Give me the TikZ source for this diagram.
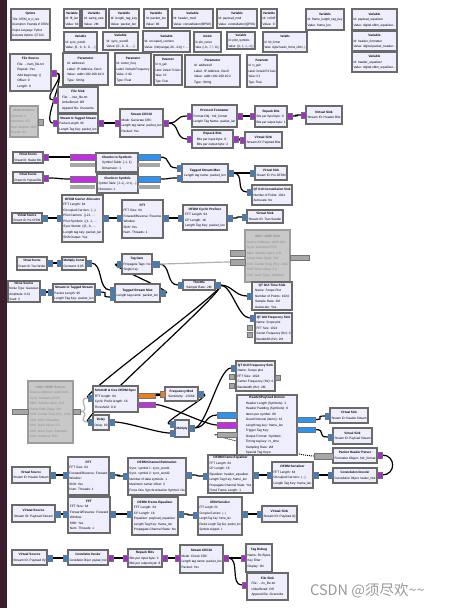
\documentclass[tikz,border=0pt]{standalone}
\usepackage{fontspec}
\usepackage{graphicx}
\setmainfont{Liberation Sans}
\newfontfamily\cjkf{Noto Sans CJK SC}
\usetikzlibrary{fit,calc}
\pgfdeclarelayer{bg}
\pgfsetlayers{bg,main}
\definecolor{blkfill}{HTML}{EFEEFD}
\definecolor{blkdraw}{HTML}{6A6A6A}
\definecolor{dfill}{HTML}{C8C8C8}
\definecolor{ddraw}{HTML}{9C9C9C}
\definecolor{cblu}{HTML}{3E7EC2}
\definecolor{cbb}{HTML}{2E93EE}
\definecolor{cpur}{HTML}{A62CCB}
\definecolor{cbar}{HTML}{C22FE0}
\definecolor{corg}{HTML}{E8801E}
\definecolor{cgry}{HTML}{A6A6A6}
\definecolor{dark}{HTML}{3B1E2D}
\newsavebox\gbox
\newdimen\gbdim
\tikzset{
 blk/.style={rectangle,draw=blkdraw,fill=blkfill,line width=1.3pt,inner sep=0pt},
 blkd/.style={rectangle,draw=ddraw,fill=dfill,line width=1.3pt,inner sep=0pt},
 blk text/.style={text=black},
 blkd text/.style={text=black!45},
 txt/.style={inner sep=0pt},
 prt/.style={rectangle,draw=black!55,line width=0.3pt,inner sep=0pt,minimum height=5.5pt},
 conn/.style={draw=black,line width=1.2pt},
 connd/.style={draw=black!30,line width=1.2pt},
 msg/.style={draw=black,line width=0.9pt,dash pattern=on 1pt off 1pt},
 lblc/.style={fill=cgry}
}
\newcommand\gfitbox[2]{\gbdim=\dimexpr #1\relax\sbox\gbox{#2}\ifdim\wd\gbox>\gbdim\resizebox{\gbdim}{\height}{\usebox\gbox}\else\usebox\gbox\fi}
\newcommand\gblk[8][blk]{%
 \node[#1,fit={(#3,#4) (#5,#6)}] (#2) {};%
 \node[txt,#1 text] at (#2.center) {\gfitbox{#5pt-#3pt-3pt}{\fontsize{3.2}{5.5}\selectfont\begin{tabular}{@{}l@{}}\multicolumn{1}{@{}c@{}}{\textbf{#7}}\\#8\end{tabular}}};%
}
\newcommand\gport[5][5]{\node[prt,fill=#2,minimum width=#1pt] (#3) at (#4,#5) {};}
\newcommand\gconn[3][conn]{\draw[#1] (#2.east) .. controls +(12,0) and +(-12,0) .. (#3.west);}
\begin{document}
\begin{tikzpicture}[x=1pt,y=-1pt]
\useasboundingbox (0,0) rectangle (458,608);
\begin{pgfonlayer}{bg}
\fill[white] (0,0) rectangle (458,608);
\fill[dark] (0,0) rectangle (7,608);
\end{pgfonlayer}
% ---------- variables / options ----------
\gblk{opt}{11}{9}{50}{40}{Options}{Title: OFDM\_tx\_rx\_test\\Description: Example of OFDM\\Output Language: Python\\Generate Options: QT GUI}
\gblk{v1}{64}{9}{80}{28}{Variable}{Id: fft\_len\\Value: 64}
\gblk{v2}{82}{9}{106}{28}{Variable}{Id: samp\_rate\\Value: 2M}
\gblk{v3}{109}{9}{139}{28}{Variable}{Id: length\_tag\_key\\Value: packet\_len}
\gblk{v4}{144}{9}{168}{28}{Variable}{Id: packet\_len\\Value: 96}
\gblk{v5}{172}{9}{213}{28}{Variable}{Id: header\_mod\\Value: constellation(BPSK)}
\gblk{v6}{217}{9}{257}{28}{Variable}{Id: payload\_mod\\Value: constellation(QPSK)}
\gblk{v7}{261}{9}{277}{28}{Variable}{Id: rolloff\\Value: 0}
\gblk{v8}{306}{9}{344}{30}{Variable}{Id: frame\_length\_tag\_key\\Value: frame\_len}
\gblk{v9}{352}{9}{397}{30}{Variable}{Id: payload\_equalizer\\Value: digital.ofdm\_equalizer...}
\gblk{v10}{352}{31}{397}{51}{Variable}{Id: header\_formatter\\Value: digital.packet\_header...}
\gblk{v11}{352}{52}{397}{72}{Variable}{Id: header\_equalizer\\Value: digital.ofdm\_equalizer...}
\gblk{v12}{64}{32}{97}{52}{Variable}{Id: sync\_word1\\Value: [0., 0., 0., 0., ...]}
\gblk{v13}{103}{32}{138}{50}{Variable}{Id: sync\_word2\\Value: [0., 0., 0., ...]}
\gblk{v14}{143}{31}{190}{52}{Variable}{Id: occupied\_carriers\\Value: (list(range(-26, -21)) + ...}
\gblk{v15}{194}{32}{221}{52}{Variable}{Id: pilot\_carriers\\Value: ((-21, -7, 7, 21),)}
\gblk{v16}{227}{32}{255}{49}{Variable}{Id: pilot\_symbols\\Value: ((1, 1, 1, -1),)}
\gblk{v17}{263}{32}{307}{52}{Variable}{Id: hdr\_format\\Value: digital.header\_format\_ofdm(...)}
\gblk{p1}{63}{53}{108}{85}{Parameter}{Id: address1\\Label: IP Address, Dev1\\Value: addr=192.168.10.3\\Type: String}
\gblk{p2}{115}{53}{151}{85}{Parameter}{Id: center\_freq\\Label: Default Frequency\\Value: 2.4G\\Type: Float}
\gblk{p3}{154}{55}{182}{85}{Parameter}{Id: tx\_gain\\Label: Default TX Gain\\Value: 0.5\\Type: Float}
\gblk{p4}{185}{55}{240}{87}{Parameter}{Id: address0\\Label: IP Address, Dev0\\Value: addr=192.168.10.2\\Type: String}
\gblk{p5}{247}{55}{277}{87}{Parameter}{Id: rx\_gain\\Label: Default RX Gain\\Value: 0.5\\Type: Float}
% ---------- TX bits ----------
\gblk{fsrc}{10}{54}{51}{91}{File Source}{File: .../ram\_file.txt\\Repeat: Yes\\Add begin tag: ()\\Offset: 0\\Length: 0}
\gblk{fsk}{58}{87}{98}{113}{File Sink}{File: .../out\_file.txt\\Unbuffered: Off\\Append file: Overwrite}
\gblk{s2ts}{58}{114}{98}{133}{Stream to Tagged Stream}{Packet Length: 96\\Length Tag Key: packet\_len}
\gblk[blkd]{rsrc}{10}{106}{38}{137}{Random Source}{Minimum: 0\\Maximum: 255\\Num Samples: 1000\\Repeat: Yes}
\gblk{crc1}{120}{109}{163}{137}{Stream CRC32}{Mode: Generate CRC\\Length tag name: packet\_len\\Packed: Yes}
\gblk{pf}{192}{105}{237}{127}{Protocol Formatter}{Format Obj.: hdr\_format\\Length Tag Name: packet\_len}
\gblk{rb1}{255}{106}{287}{127}{Repack Bits}{Bits per input byte: 8\\Bits per output byte: 1}
\gblk{vk1}{306}{106}{342}{124}{Virtual Sink}{Stream ID: Header Bits}
\gblk{rb2}{192}{130}{233}{148}{Repack Bits}{Bits per input byte: 8\\Bits per output byte: 2}
\gblk{vk2}{245}{132}{282}{148}{Virtual Sink}{Stream ID: Payload Bits}
% ---------- symbols ----------
\gblk{vs1}{13}{152}{43}{163}{Virtual Source}{Stream ID: Header Bits}
\gblk{cs1}{96}{153}{138}{172}{Chunks to Symbols}{Symbol Table: [-1, 1]\\Dimension: 1}
\gblk{vs2}{13}{172}{43}{183}{Virtual Source}{Stream ID: Payload Bits}
\gblk{cs2}{97}{174}{138}{193}{Chunks to Symbols}{Symbol Table: [-1-1j, -1+1j, ...]\\Dimension: 1}
\gblk{tsm1}{182}{164}{228}{182}{Tagged Stream Mux}{Length tag name: packet\_len}
\gblk{vk3}{255}{166}{287}{180}{Virtual Sink}{Stream ID: Pre OFDM}
\gblk{qtc}{252}{185}{292}{205}{QT GUI Constellation Sink}{Number of Points: 1024\\Autoscale: No}
\fill[lblc] (70,163) rectangle (95,167);
\fill[lblc] (138,163) rectangle (160,167);
\fill[lblc] (70,185) rectangle (95,189);
\fill[lblc] (138,185) rectangle (160,189);
% ---------- OFDM TX ----------
\gblk{vs3}{12}{213}{42}{223}{Virtual Source}{Stream ID: Pre OFDM}
\gblk{oca}{62}{195}{103}{242}{OFDM Carrier Allocator}{FFT Length: 64\\Occupied Carriers: (...)\\Pilot Carriers: ((-21, ...\\Pilot Symbols: ((1, 1, ...\\Sync Words: ((0., 0., ...\\Length tag key: packet\_len\\Shift Output: Yes}
\gblk{fft1}{122}{200}{163}{238}{FFT}{FFT Size: 64\\Forward/Reverse: Reverse\\Window: \\Shift: Yes\\Num. Threads: 1}
\gblk{ocp}{183}{205}{227}{230}{OFDM Cyclic Prefixer}{FFT Length: 64\\CP Length: 16\\Length Tag Key: packet\_len}
\gblk{vk4}{247}{210}{283}{223}{Virtual Sink}{Stream ID: Tran Sender}
% ---------- channel ----------
\gblk[blkd]{usk}{245}{230}{290}{282}{UHD: USRP Sink}{Device Address: addr=192...\\Sync: Unknown PPS\\Mb0: Subdev Spec: A:0\\Samp Rate (Sps): 2M\\Ch0: Center Freq (Hz): 2.4G\\Ch0: Gain Value: 0.5\\Ch0: Gain Type: Absolute}
\gblk{vs4}{17}{257}{47}{270}{Virtual Source}{Stream ID: Tran Sender}
\gblk{mc}{62}{257}{86}{270}{Multiply Const}{Constant: 0.05}
\gblk{tg}{122}{254}{152}{274}{Tag Gate}{Propagate Tags: No\\Single Key: }
\gblk{ns}{8}{281}{40}{302}{Noise Source}{Noise Type: Gaussian\\Amplitude: 0.01\\Seed: 0}
\gblk{s2ts2}{53}{284}{95}{302}{Stream to Tagged Stream}{Packet Length: 96\\Length Tag Key: packet\_len}
\gblk{tsm2}{115}{284}{160}{302}{Tagged Stream Mux}{Length tag name: packet\_len}
\gblk{thr}{183}{280}{215}{290}{Throttle}{Sample Rate: 2M}
\gblk{qtt}{252}{282}{292}{310}{QT GUI Time Sink}{Name: Scope Plot\\Number of Points: 1024\\Sample Rate: 2M\\Autoscale: Yes}
\gblk{qtf1}{255}{313}{292}{343}{QT GUI Frequency Sink}{Name: Scope plot\\FFT Size: 1024\\Center Frequency (Hz): 0\\Bandwidth (Hz): 2M}
% ---------- RX ----------
\gblk[blkd]{usrc}{28}{381}{73}{443}{UHD: USRP Source}{Device Address: addr=192...\\Sync: Unknown PPS\\Mb0: Subdev Spec: A:0\\Samp Rate (Sps): 2M\\Ch0: Center Freq (Hz): 2.4G\\Ch0: AGC: Disabled\\Ch0: Gain Value: 0.5\\Ch0: Gain Type: Absolute\\Ch0: Antenna: RX2}
\gblk{sc}{93}{386}{138}{412}{Schmidl \& Cox OFDM Sync}{FFT length: 64\\Cyclic Prefix length: 16\\Threshold: 0.9}
\gblk{dl}{93}{415}{109}{430}{Delay}{Delay: 80}
\gblk{fm}{165}{387}{198}{401}{Frequency Mod}{Sensitivity: -2.0/64}
\gblk{mul}{175}{420}{189}{437}{Multiply}{}
\gblk{qtf2}{236}{361}{275}{391}{QT GUI Frequency Sink}{Name: Scope plot\\FFT Size: 1024\\Center Frequency (Hz): 0\\Bandwidth (Hz): 2M}
\gblk{hpd}{237}{395}{297}{455}{Header/Payload Demux}{Header Length (Symbols): 1\\Header Padding (Symbols): 0\\Items per symbol: 80\\Guard Interval (items): 16\\Length tag key: frame\_len\\Trigger Tag Key: \\Output Format: Symbols\\Timing tag key: rx\_time\\Sampling Rate: 2M\\Special Tag Keys: }
\gblk{vk5}{330}{408}{368}{423}{Virtual Sink}{Stream ID: Header Stream}
\gblk{vk6}{333}{428}{372}{444}{Virtual Sink}{Stream ID: Payload Stream}
\gblk{php}{333}{448}{377}{463}{Packet Header Parser}{Formatter Object: hdr\_format}
\gblk{cd1}{333}{468}{377}{483}{Constellation Decoder}{Constellation Object: header\_mod}
\gblk{osr1}{272}{462}{313}{488}{OFDM Serializer}{FFT Length: 64\\Occupied Carriers: (...)\\Length Tag Key: frame\_len}
\gblk{ofe1}{208}{455}{253}{493}{OFDM Frame Equalizer}{FFT Length: 64\\CP Length: 16\\Equalizer: header\_equalizer\\Length Tag Key: frame\_len\\Propagate Channel State: Yes\\Fixed Frame Length: 1}
\gblk{oce}{128}{458}{186}{495}{OFDM Channel Estimation}{Sync. symbol 1: sync\_word1\\Sync. symbol 2: sync\_word2\\Number of data symbols: 1\\Maximum carrier offset: 3\\Force One Synchronization Symbol: No}
\gblk{fft2}{68}{457}{109}{495}{FFT}{FFT Size: 64\\Forward/Reverse: Forward\\Window: \\Shift: Yes\\Num. Threads: 1}
\gblk{vs5}{12}{467}{50}{483}{Virtual Source}{Stream ID: Header Stream}
\gblk{vs6}{12}{505}{55}{522}{Virtual Source}{Stream ID: Payload Stream}
\gblk{fft3}{68}{497}{110}{533}{FFT}{FFT Size: 64\\Forward/Reverse: Forward\\Window: \\Shift: Yes\\Num. Threads: 1}
\gblk{ofe2}{132}{497}{178}{535}{OFDM Frame Equalizer}{FFT Length: 64\\CP Length: 16\\Equalizer: payload\_equalizer\\Length Tag Key: frame\_len\\Propagate Channel State: No}
\gblk{osr2}{198}{497}{242}{535}{OFDM Serializer}{FFT Length: 64\\Occupied Carriers: (...)\\Length Tag Key: frame\_len\\Packet Length Tag Key: packet\_len\\Symbols skipped: 1}
\gblk{vk7}{262}{506}{297}{522}{Virtual Sink}{Stream ID: Payload IQ}
\gblk{vs7}{12}{550}{47}{565}{Virtual Source}{Stream ID: Payload IQ}
\gblk{cd2}{68}{550}{108}{565}{Constellation Decoder}{Constellation Object: payload\_mod}
\gblk{rb3}{128}{549}{162}{567}{Repack Bits}{Bits per input byte: 2\\Bits per output byte: 8}
\gblk{crc2}{180}{545}{223}{573}{Stream CRC32}{Mode: Check CRC\\Length tag name: packet\_len\\Packed: Yes}
\gblk{td}{246}{544}{272}{572}{Tag Debug}{Name: Rx Bytes\\Key Filter: \\Display: On}
\gblk{fsk2}{247}{573}{288}{600}{File Sink}{File: .../rx\_file.txt\\Unbuffered: Off\\Append file: Overwrite}
% ---------- ports ----------
\gport{cpur}{fso}{53.5}{73}
\gport{cpur}{fski}{55.5}{100}
\gport{cgry}{rso}{40.5}{122}
\gport{cpur}{s2i}{55.5}{123}
\gport{cpur}{s2o}{100.5}{123}
\gport{cpur}{crci}{117.5}{123}
\gport{cpur}{crco}{165.5}{123}
\gport{cpur}{pfi}{189.5}{116}
\gport{cpur}{pfo}{239.5}{116}
\gport{cpur}{rb1i}{252.5}{116}
\gport{cpur}{rb1o}{289.5}{116}
\gport{cpur}{vk1i}{303.5}{115}
\gport{cpur}{rb2i}{189.5}{139}
\gport{cpur}{rb2o}{235.5}{139}
\gport{cpur}{vk2i}{242.5}{140}
\gport{cpur}{vs1o}{45.5}{157}
\gport[26]{cbar}{cs1i}{83}{157}
\gport[22]{cbb}{cs1o}{149}{157}
\gport{cpur}{vs2o}{45.5}{178}
\gport[26]{cbar}{cs2i}{83}{179}
\gport[22]{cbb}{cs2o}{149}{179}
\gport{cblu}{tsm1a}{179.5}{168}
\gport{cblu}{tsm1b}{179.5}{178}
\gport{cblu}{tsm1o}{230.5}{173}
\gport{cblu}{vk3i}{252.5}{173}
\gport{cblu}{qtci}{249.5}{192}
\gport{cblu}{vs3o}{44.5}{218}
\gport{cblu}{ocai}{59.5}{218}
\gport{cblu}{ocao}{105.5}{218}
\gport{cblu}{fft1i}{119.5}{218}
\gport{cblu}{fft1o}{165.5}{218}
\gport{cblu}{ocpi}{180.5}{218}
\gport{cblu}{ocpo}{229.5}{218}
\gport{cblu}{vk4i}{244.5}{217}
\gport[15]{cgry}{uska}{237.5}{253}
\gport[15]{cgry}{uskb}{237.5}{262}
\gport[19]{cgry}{usko}{299.5}{257.5}
\gport{cblu}{vs4o}{49.5}{263}
\gport{cblu}{mci}{59.5}{263}
\gport{cblu}{mco}{88.5}{263}
\gport{cblu}{tgi}{119.5}{264}
\gport[7]{cblu}{tgo}{155.5}{264}
\gport{cblu}{nso}{42.5}{292}
\gport{cblu}{s22i}{50.5}{292}
\gport{cblu}{s22o}{97.5}{292}
\gport{cblu}{tsm2a}{112.5}{290}
\gport{cblu}{tsm2b}{112.5}{297}
\gport{cblu}{tsm2o}{162.5}{293}
\gport{cblu}{thri}{180.5}{285}
\gport{cblu}{thro}{217.5}{285}
\gport{cblu}{qtti}{249.5}{296}
\gport{cblu}{qtf1i}{252.5}{318}
\gport{cgry}{qtf1a}{250}{327.5}
\gport{cgry}{qtf1b}{250}{334.5}
\gport[16]{cgry}{usrci}{20}{411.5}
\gport[7]{cgry}{usrco}{76.5}{411.5}
\gport{cblu}{sci}{90.5}{398}
\gport[17]{corg}{sco1}{146.5}{395.5}
\gport[17]{cbar}{sco2}{146.5}{404.5}
\gport{cblu}{dli}{90.5}{422}
\gport{cblu}{dlo}{112}{422}
\gport{corg}{fmi}{162.5}{394}
\gport{cblu}{fmo}{200.5}{394}
\gport{cblu}{mula}{172.5}{424}
\gport{cblu}{mulb}{172.5}{433}
\gport{cblu}{mulo}{191.5}{428}
\gport{cblu}{qtf2i}{233.5}{368}
\gport{cgry}{qtf2a}{232}{376.5}
\gport{cgry}{qtf2b}{232}{385.5}
\gport{cgry}{qtf2c}{278}{377.5}
\gport[20]{cbb}{hpda}{227}{415}
\gport[20]{cbar}{hpdb}{227}{425}
\gport[20]{cgry}{hpdc}{227}{434.5}
\gport[18]{cbb}{hpdo1}{306}{419.5}
\gport[18]{cbb}{hpdo2}{306}{429.5}
\gport{cblu}{vk5i}{327.5}{416}
\gport{cblu}{vk6i}{330.5}{437}
\gport[19]{cgry}{phpi}{323.5}{456}
\gport{cpur}{phpo}{379.5}{455}
\gport{cblu}{cd1i}{330.5}{475}
\gport{cpur}{cd1o}{379.5}{475}
\gport{cblu}{osr1i}{269.5}{475}
\gport{cblu}{osr1o}{315.5}{475}
\gport{cblu}{ofe1i}{205.5}{476}
\gport{cblu}{ofe1o}{255.5}{475}
\gport{cblu}{ocei}{125.5}{476}
\gport{cblu}{oceo}{188.5}{475}
\gport{cblu}{fft2i}{65.5}{475}
\gport{cblu}{fft2o}{111.5}{475}
\gport{cblu}{vs5o}{52.5}{475}
\gport{cblu}{vs6o}{57.5}{514}
\gport{cblu}{fft3i}{65.5}{514}
\gport{cblu}{fft3o}{112.5}{514}
\gport{cblu}{ofe2i}{129.5}{514}
\gport{cblu}{ofe2o}{180.5}{514}
\gport{cblu}{osr2i}{195.5}{515}
\gport{cblu}{osr2o}{244.5}{514}
\gport{cblu}{vk7i}{259.5}{514}
\gport{cblu}{vs7o}{49.5}{558}
\gport{cblu}{cd2i}{65.5}{558}
\gport{cpur}{cd2o}{110.5}{558}
\gport{cpur}{rb3i}{125.5}{558}
\gport{cpur}{rb3o}{164.5}{558}
\gport{cpur}{crc2i}{177.5}{558}
\gport{cpur}{crc2o}{225.5}{558}
\gport{cpur}{tdi}{243.5}{558}
\gport{cpur}{fsk2i}{244.5}{585}
% ---------- connections ----------
\begin{pgfonlayer}{bg}
\gconn{fso}{s2i}
\gconn{fso}{fski}
\gconn{s2o}{crci}
\gconn{crco}{pfi}
\gconn{crco}{rb2i}
\gconn{pfo}{rb1i}
\gconn{rb1o}{vk1i}
\gconn{rb2o}{vk2i}
\gconn{vs1o}{cs1i}
\gconn{vs2o}{cs2i}
\gconn{cs1o}{tsm1a}
\gconn{cs2o}{tsm1b}
\gconn{tsm1o}{vk3i}
\gconn{tsm1o}{qtci}
\gconn{vs3o}{ocai}
\gconn{ocao}{fft1i}
\gconn{fft1o}{ocpi}
\gconn{ocpo}{vk4i}
\gconn{vs4o}{mci}
\gconn{mco}{tsm2a}
\gconn{nso}{s22i}
\gconn{s22o}{tsm2b}
\gconn{tsm2o}{tgi}
\gconn{tgo}{thri}
\gconn[connd]{tgo}{uskb}
\gconn{thro}{qtti}
\gconn{thro}{qtf1i}
\gconn{thro}{sci}
\gconn{thro}{dli}
\gconn[connd]{usrco}{sci}
\gconn[connd]{usrco}{dli}
\gconn{sco1}{fmi}
\gconn{sco2}{hpdb}
\gconn{dlo}{mulb}
\gconn{fmo}{mula}
\gconn{mulo}{hpda}
\gconn{mulo}{qtf2i}
\gconn{hpdo1}{vk5i}
\gconn{hpdo2}{vk6i}
\draw[msg] (phpi.west) .. controls +(-14,0) and +(-14,0) .. (hpdc.west);
\draw[conn] (cd1o.east) .. controls +(14,0) and +(14,0) .. (phpo.east);
\gconn{vs5o}{fft2i}
\gconn{fft2o}{ocei}
\gconn{oceo}{ofe1i}
\gconn{ofe1o}{osr1i}
\gconn{osr1o}{cd1i}
\gconn{vs6o}{fft3i}
\gconn{fft3o}{ofe2i}
\gconn{ofe2o}{osr2i}
\gconn{osr2o}{vk7i}
\gconn{vs7o}{cd2i}
\gconn{cd2o}{rb3i}
\gconn{rb3o}{crc2i}
\gconn{crc2o}{tdi}
\gconn{crc2o}{fsk2i}
\end{pgfonlayer}
% ---------- watermark ----------
\node[anchor=west,inner sep=0pt,text=black!40] (wm) at (310,591) {\cjkf\fontsize{14.5}{15}\selectfont CSDN @须尽欢\textasciitilde\textasciitilde};
\end{tikzpicture}
\end{document}
